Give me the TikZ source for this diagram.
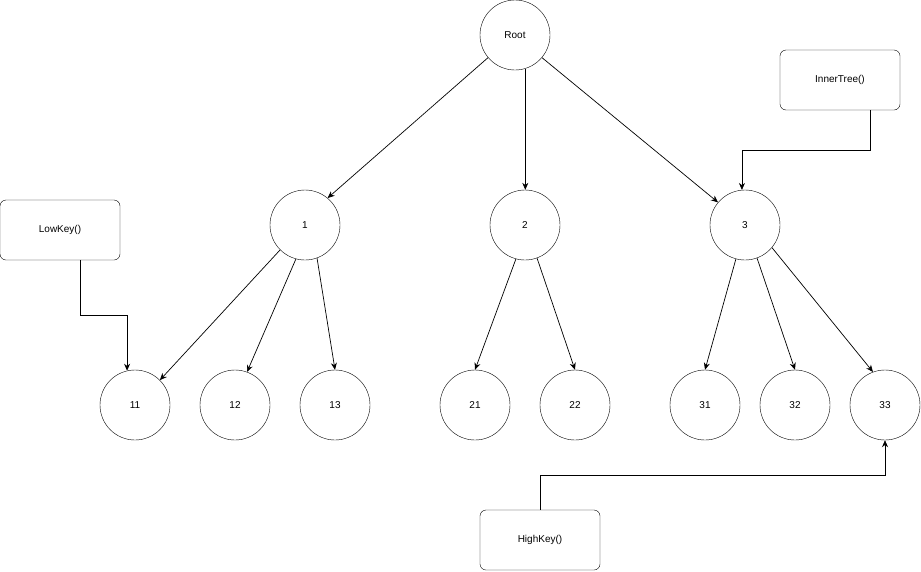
\documentclass[tikz,border=0pt]{standalone}
\usepackage{fontspec}
\setmainfont{Liberation Sans}
\usetikzlibrary{arrows.meta}
\begin{document}
\begin{tikzpicture}[x=1pt,y=-1pt,
  cnode/.style={circle,draw,minimum size=70pt,inner sep=0pt,font=\fontsize{10}{12}\selectfont},
  rbox/.style={draw,rounded corners=6pt,minimum width=120pt,minimum height=60pt,inner sep=0pt,font=\fontsize{10}{12}\selectfont},
  arr/.style={-{Stealth[length=7pt,width=6pt]},line width=0.7pt}]
\useasboundingbox (0,0) rectangle (921,571);
\node[cnode] (r) at (515,35) {Root};
\node[cnode] (n1) at (305,225) {1};
\node[cnode] (n2) at (525,225) {2};
\node[cnode] (n3) at (745,225) {3};
\node[cnode] (n11) at (135,405) {11};
\node[cnode] (n12) at (235,405) {12};
\node[cnode] (n13) at (335,405) {13};
\node[cnode] (n21) at (475,405) {21};
\node[cnode] (n22) at (575,405) {22};
\node[cnode] (n31) at (705,405) {31};
\node[cnode] (n32) at (795,405) {32};
\node[cnode] (n33) at (885,405) {33};
\node[rbox] (lk) at (60,230) {LowKey()};
\node[rbox] (it) at (840,80) {InnerTree()};
\node[rbox] (hk) at (540,540) {HighKey()};
\draw[arr] (r.220) -- (n1.50);
\draw[arr] (r.287) -- (r.287 |- n2.north);
\draw[arr] (r.320) -- (n3.140);
\draw[arr] (n1.225) -- (n11.45);
\draw[arr] (n1.255) -- (n12.70);
\draw[arr] (n1.290) -- (n13.90);
\draw[arr] (n2.255) -- (n21.90);
\draw[arr] (n2.290) -- (n22.90);
\draw[arr] (n3.255) -- (n31.90);
\draw[arr] (n3.290) -- (n32.90);
\draw[arr] (n3.320) -- (n33.110);
\coordinate (a1) at (80,315);
\draw[arr] (lk.south -| a1) -- (a1) -| (n11.103);
\coordinate (a2) at (870,150);
\draw[arr] (it.south -| a2) -- (a2) -| (n3.95);
\coordinate (a3) at (540,475);
\draw[arr] (hk.north) -- (a3) -| (n33.south);
\end{tikzpicture}
\end{document}
